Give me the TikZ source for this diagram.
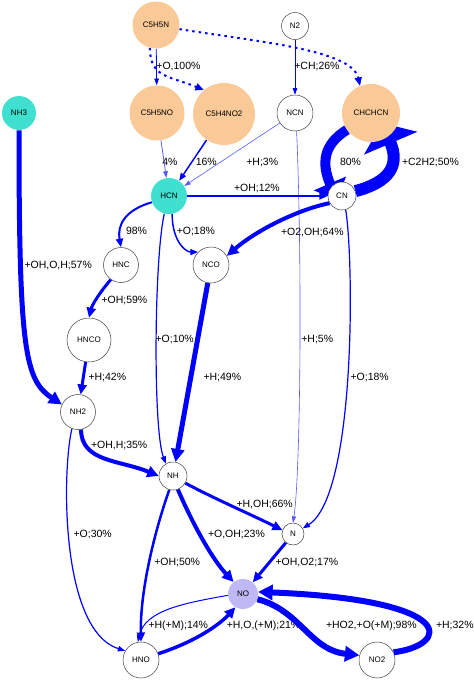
\documentclass[tikz,border=0pt]{standalone}
\usepackage{fontspec}
\setmainfont{Liberation Sans}
\usepackage{xcolor}
\usepackage{tikz}
\usetikzlibrary{arrows.meta, calc, backgrounds}
\definecolor{peachFill}{RGB}{250, 201, 152}
\definecolor{turqFill}{RGB}{64, 224, 208}
\definecolor{lavFill}{RGB}{190, 184, 245}
\definecolor{flowBlue}{RGB}{0, 0, 255}

\begin{document}
\begin{tikzpicture}[
    x=1pt, y=-1pt,
    species/.style={circle, draw=black!75, line width=0.5pt, fill=white, inner sep=0pt, font=\fontsize{8}{8}\selectfont, text height=5.8pt, text depth=0pt},
    fuel/.style={species, draw=none, fill=peachFill},
    seed/.style={species, draw=none, fill=turqFill},
    target/.style={species, draw=none, fill=lavFill},
    flow/.style={draw=flowBlue, -{Triangle[length=5.5pt 1.5, width=3pt 2]}},
    faint/.style={flow, draw=flowBlue!65},
    dotflow/.style={flow, line width=2pt, dash pattern=on 2.5pt off 4pt},
    rate/.style={anchor=west, inner sep=0pt, font=\fontsize{10.5}{10.5}\selectfont, text height=7.5pt, text depth=0pt}
  ]
    \useasboundingbox (0,0) rectangle (474,681);

    \node[fuel, minimum size=47pt] (c5h5n) at (156,25) {C5H5N};
    \node[species, minimum size=27pt] (n2) at (295,26) {N2};
    \node[fuel, minimum size=55pt] (c5h5no) at (157,113) {C5H5NO};
    \node[fuel, minimum size=62pt] (c5h4no2) at (224,114) {C5H4NO2};
    \node[species, minimum size=36pt] (ncn) at (295,113) {NCN};
    \node[fuel, minimum size=58pt] (chchcn) at (371,113) {CHCHCN};
    \node[seed, minimum size=34pt] (nh3) at (19,113) {NH3};
    \node[seed, minimum size=36pt] (hcn) at (169,196) {HCN};
    \node[species, minimum size=28pt] (cn) at (342,196) {CN};
    \node[species, minimum size=35pt] (hnc) at (121,265) {HNC};
    \node[species, minimum size=36pt] (nco) at (211,265) {NCO};
    \node[species, minimum size=44pt] (hnco) at (89,340) {HNCO};
    \node[species, minimum size=35pt] (nh2) at (78,412) {NH2};
    \node[species, minimum size=28pt] (nh) at (173,476) {NH};
    \node[species, minimum size=22pt] (n) at (293,534) {N};
    \node[target, minimum size=30pt] (no) at (243,594) {NO};
    \node[species, minimum size=36pt] (hno) at (141,660) {HNO};
    \node[species, minimum size=36pt] (no2) at (377,660) {NO2};

    \begin{scope}[on background layer]
    \path[flow, line width=0.8pt] (c5h5n) -- (c5h5no) node[rate] at (156,66) {+O,100\%};
    \path[dotflow] (c5h5n.255) .. controls (150,78) and (170,76) .. (c5h4no2.130);
    \path[dotflow] (c5h5n.-10) .. controls (260,42) and (352,50) .. (chchcn.112);
    \path[flow, line width=0.7pt] (n2) -- (ncn) node[rate] at (294,66) {+CH;26\%};
    \path[faint, line width=0.6pt] (ncn) -- (hcn) node[rate] at (246,162) {+H;3\%};
    \path[faint, line width=0.6pt] (ncn.-85) .. controls (302,250) and (301,470) .. (n.north) node[rate] at (301,339) {+H;5\%};
    \path[faint, line width=0.8pt] (c5h5no) -- (hcn) node[rate] at (162,162) {4\%};
    \path[flow, line width=1.5pt] (c5h4no2) -- (hcn) node[rate] at (195,162) {16\%};

    \path[flow, line width=10pt, -{Triangle[length=18pt, width=34pt]}] (chchcn.215) .. controls (322,145) and (322,165) .. ($(cn)+(-5,4)$) node[rate] at (335,162) {80\%};
    \path[flow, line width=12pt, -{Triangle[length=22pt, width=57pt]}] (cn.20) .. controls (390,182) and (400,165) .. ($(chchcn)+(11,10)$) node[rate] at (396,162) {+C2H2;50\%};

    \path[flow, line width=2pt] (hcn) -- (cn) node[rate] at (233,188) {+OH;12\%};
    \path[flow, line width=2pt] (hcn.200) .. controls (125,210) and (117,225) .. (hnc.north) node[rate] at (125,231) {98\%};
    \path[flow, line width=1.5pt] (hcn.-80) .. controls (172,240) and (185,252) .. (nco.135) node[rate] at (176,231) {+O;18\%};
    \path[flow, line width=1.2pt] (hcn.-105) .. controls (154,260) and (153,430) .. (nh.120) node[rate] at (155,339) {+O;10\%};
    \path[flow, line width=4pt] (cn.210) .. controls (300,209) and (258,229) .. (nco.30) node[rate] at (279,232) {+O2,OH;64\%};
    \path[flow, line width=1.2pt] (cn.-75) .. controls (354,260) and (356,495) .. (n.30) node[rate] at (350,377) {+O;18\%};

    \path[flow, line width=5pt] (nh3.south) .. controls (19,350) and (25,380) .. (nh2.155) node[rate] at (22,265) {+OH,O,H;57\%};
    \path[flow, line width=3pt] (hnc.235) .. controls (100,292) and (92,305) .. (hnco.north) node[rate] at (100,300) {+OH;59\%};
    \path[flow, line width=3pt] (hnco) -- (nh2) node[rate] at (87,377) {+H;42\%};
    \path[flow, line width=5pt] (nco) -- (nh) node[rate] at (201,377) {+H;49\%};
    \path[flow, line width=4pt] (nh2.-80) .. controls (81,462) and (120,460) .. (nh.180) node[rate] at (89,445) {+OH,H;35\%};
    \path[flow, line width=1.2pt] (nh2.-110) .. controls (62,470) and (60,630) .. (hno.150) node[rate] at (73,534) {+O;30\%};

    \path[flow, line width=3pt] (nh.-30) .. controls (215,499) and (250,514) .. (n.160) node[rate] at (235,504) {+H,OH;66\%};
    \path[flow, line width=4pt] (nh.-70) .. controls (193,525) and (213,560) .. (no.128) node[rate] at (206,534) {+O,OH;23\%};
    \path[flow, line width=2.5pt] (nh.-105) .. controls (155,530) and (140,590) .. (hno.north) node[rate] at (153,562) {+OH;50\%};
    \path[flow, line width=3pt] (n) -- (no) node[rate] at (274,562) {+OH,O2;17\%};
    \path[flow, line width=1pt] (no.185) .. controls (185,603) and (145,610) .. (hno.100) node[rate] at (148,625) {+H(+M);14\%};
    \path[flow, line width=3.5pt] (hno.20) .. controls (200,640) and (222,622) .. (no.-120) node[rate] at (225,625) {+H,O,(+M);21\%};
    \path[flow, line width=6pt] (no.-20) .. controls (300,610) and (310,650) .. (no2.165) node[rate] at (323,625) {+HO2,+O(+M);98\%};
    \path[flow, line width=6pt] (no2.25) .. controls (450,645) and (460,600) .. (no.8) node[rate] at (433,625) {+H;32\%};
    \end{scope}
  \end{tikzpicture}
\end{document}
